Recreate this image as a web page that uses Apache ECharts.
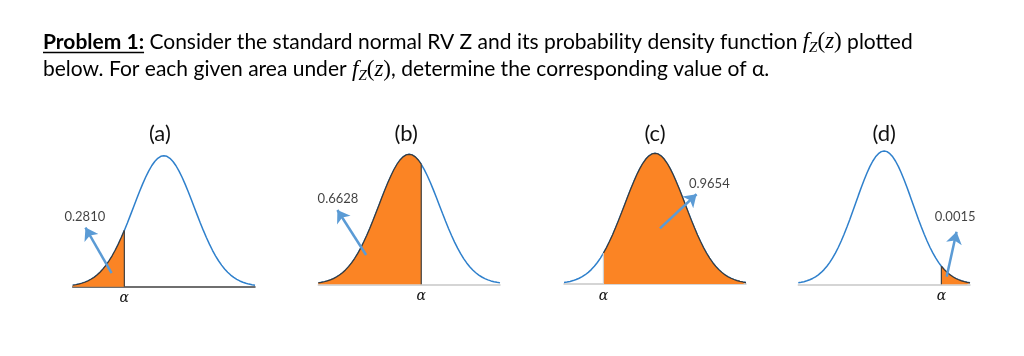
<!DOCTYPE html>
<html>
<head>
<meta charset="utf-8">
<script src="https://cdn.jsdelivr.net/npm/echarts@6/dist/echarts.min.js"></script>
<style>
html,body{margin:0;padding:0;background:#fff;}
#chart{width:1024px;height:356px;}
</style>
</head>
<body>
<div id="chart"></div>
<script>
// Standard normal density sampled at z = -3.0 ... 3.0 (step 0.1)
const pdf = [0.0044,0.0060,0.0079,0.0104,0.0136,0.0175,0.0224,0.0283,0.0355,0.0440,
             0.0540,0.0656,0.0790,0.0940,0.1109,0.1295,0.1497,0.1714,0.1942,0.2179,
             0.2420,0.2661,0.2897,0.3123,0.3332,0.3521,0.3683,0.3814,0.3910,0.3970,
             0.3989,
             0.3970,0.3910,0.3814,0.3683,0.3521,0.3332,0.3123,0.2897,0.2661,0.2420,
             0.2179,0.1942,0.1714,0.1497,0.1295,0.1109,0.0940,0.0790,0.0656,0.0540,
             0.0440,0.0355,0.0283,0.0224,0.0175,0.0136,0.0104,0.0079,0.0060,0.0044];
const panelTitles = ['(a)', '(b)', '(c)', '(d)'];
const areaLabels = ['0.2810', '0.6628', '0.9654', '0.0015'];
const alphaZ = [-1.3, 0.4, -1.7, 2.0];          // drawn position of alpha (z units)
const shadeSide = ['left', 'left', 'right', 'right'];
const alphaLabel = 'α';

// layout (pixels) and annotation geometry (data units)
const gridBoxes = [
  {left: 72.7, top: 155.7, width: 182.3, height: 131},
  {left: 318.3, top: 154.3, width: 181.7, height: 130},
  {left: 564, top: 153.3, width: 182, height: 130.7},
  {left: 798.3, top: 151, width: 171.7, height: 133.3}
];
const arrowGeom = [
  {from: [-1.72, 0.041], to: [-2.58, 0.180], label: [-2.6, 0.213]},
  {from: [-1.42, 0.090], to: [-2.37, 0.228], label: [-2.35, 0.262]},
  {from: [0.165, 0.170], to: [1.37, 0.274], label: [1.79, 0.307]},
  {from: [2.185, 0.023], to: [2.53, 0.157], label: [2.48, 0.202]}
];
const baseColors = ['#404040', '#c8c8c8', '#c8c8c8', '#c8c8c8'];
const edgeColors = ['#404040', '#404040', '#d0d0d0', '#404040'];

const zValues = pdf.map((_, i) => (i - 30) / 10);
const curve = zValues.map((z, i) => [z, pdf[i]]);

const grids = [], xAxes = [], yAxes = [], series = [], graphic = [];
const FONT = 'Lato';

panelTitles.forEach((t, k) => {
  const g = gridBoxes[k];
  grids.push({left: g.left, top: g.top, width: g.width, height: g.height, containLabel: false});
  xAxes.push({
    gridIndex: k, type: 'value', min: -3, max: 3,
    axisLine: {show: true, lineStyle: {color: baseColors[k], width: 1.5}},
    axisTick: {show: false}, splitLine: {show: false},
    axisLabel: {
      show: true, customValues: [alphaZ[k]], formatter: () => alphaLabel,
      fontFamily: 'DejaVu Serif', fontStyle: 'italic', fontSize: 14, color: '#111', margin: 5
    }
  });
  yAxes.push({gridIndex: k, type: 'value', min: 0, max: 0.3989, show: false});

  series.push({
    type: 'line', xAxisIndex: k, yAxisIndex: k, data: curve, showSymbol: false, symbol: 'none',
    clip: false, lineStyle: {color: '#2f80cc', width: 1.5}, z: 2
  });
  const a = alphaZ[k];
  const part = curve.filter(p => shadeSide[k] === 'left' ? p[0] <= a + 1e-9 : p[0] >= a - 1e-9);
  series.push({
    type: 'line', xAxisIndex: k, yAxisIndex: k, data: part, showSymbol: false, symbol: 'none',
    clip: false, lineStyle: {color: '#3a3a3a', width: 1.2},
    areaStyle: {color: '#fb8424', opacity: 1, origin: 'start'}, z: 3
  });
  const idx = Math.round(a * 10) + 30;
  series.push({
    type: 'line', xAxisIndex: k, yAxisIndex: k, data: [[a, 0], [a, pdf[idx]]], showSymbol: false,
    symbol: 'none', clip: false, lineStyle: {color: edgeColors[k], width: 1.2}, z: 4
  });
  const ar = arrowGeom[k];
  series.push({
    type: 'lines', coordinateSystem: 'cartesian2d', xAxisIndex: k, yAxisIndex: k,
    symbol: ['none', 'arrow'], symbolSize: 12,
    lineStyle: {color: '#5b9bd5', width: 2.5, opacity: 1, curveness: 0},
    data: [{coords: [ar.from, ar.to]}], z: 5, silent: true
  });
  series.push({
    type: 'scatter', xAxisIndex: k, yAxisIndex: k, symbolSize: 0, clip: false,
    data: [ar.label.concat([areaLabels[k]])],
    label: {show: true, position: 'inside', formatter: p => p.data[2],
            fontFamily: FONT, fontSize: 13, color: '#111'},
    z: 6
  });
  graphic.push({
    type: 'text', x: g.left + g.width / 2 - (k === 0 ? 4 : k === 1 ? 3 : 0), y: 134,
    style: {text: t, fontFamily: FONT, fontSize: 22, fill: '#111', align: 'center', verticalAlign: 'middle'}
  });
});

const FS = 21;
const rich = {
  b: {fontFamily: FONT, fontWeight: 'bold', fontSize: FS, lineHeight: 28, color: '#000'},
  fi: {fontFamily: 'Liberation Serif', fontStyle: 'italic', fontSize: 23, lineHeight: 28, color: '#000'},
  p: {fontFamily: 'Liberation Serif', fontSize: 23, lineHeight: 28, color: '#000'},
  s: {fontFamily: 'Liberation Serif', fontStyle: 'italic', fontSize: 15, lineHeight: 16, verticalAlign: 'bottom', color: '#000'}
};
const fz = '{fi|f}{s|Z}{p|(}{fi|z}{p|)}';
const line1 = '{b|Problem 1:} Consider the standard normal RV Z and its probability density function ' + fz + ' plotted';
const line2 = 'below. For each given area under ' + fz + ', determine the corresponding value of α.';
graphic.push({type: 'text', x: 43, y: 42,
  style: {text: line1, rich: rich, fontFamily: FONT, fontSize: FS, lineHeight: 28, fill: '#000', verticalAlign: 'middle'}});
graphic.push({type: 'text', x: 43, y: 69.5,
  style: {text: line2, rich: rich, fontFamily: FONT, fontSize: FS, lineHeight: 28, fill: '#000', verticalAlign: 'middle'}});
const cv = document.createElement('canvas').getContext('2d');
cv.font = 'bold ' + FS + 'px Lato';
const uw = cv.measureText('Problem 1:').width;
graphic.push({type: 'line', shape: {x1: 43, y1: 52.5, x2: 43 + uw, y2: 52.5}, style: {stroke: '#000', lineWidth: 1.5}});

const chart = echarts.init(document.getElementById('chart'), null, {renderer: 'canvas'});
chart.setOption({
  animation: false,
  backgroundColor: '#fff',
  grid: grids, xAxis: xAxes, yAxis: yAxes, series: series, graphic: graphic
});
</script>
</body>
</html>
